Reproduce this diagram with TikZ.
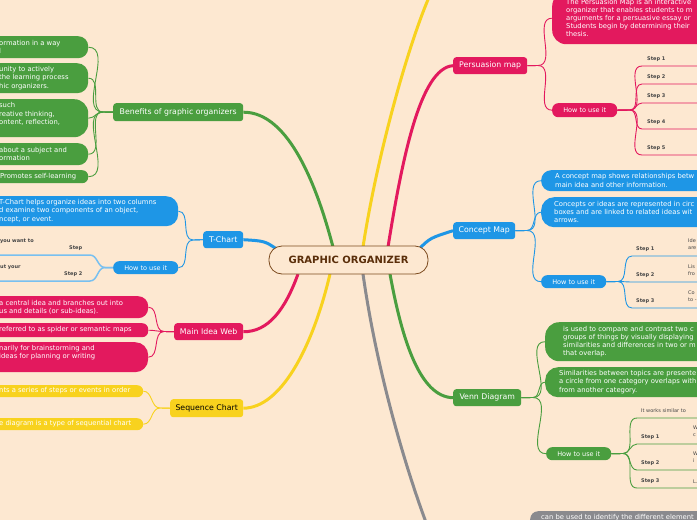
\documentclass[tikz,border=0pt]{standalone}
\usepackage{fontspec}
\setmainfont{DejaVu Sans}
\definecolor{bg}{HTML}{FDE8D1}
\definecolor{cg}{HTML}{4A9E3F}
\definecolor{cb}{HTML}{1E96E6}
\definecolor{cp}{HTML}{E3195E}
\definecolor{cy}{HTML}{F8D21E}
\definecolor{cgr}{HTML}{8A8A8E}
\definecolor{brn}{HTML}{7B4A1E}
\definecolor{dbrn}{HTML}{5A2E0A}
\definecolor{stp}{HTML}{444444}
\tikzset{
 lf/.style={font=\fontsize{6.8}{8.2}\selectfont, text=white, align=left, anchor=west, inner sep=0},
 mn/.style={font=\fontsize{7.8}{9}\selectfont, text=white, inner sep=0},
 st/.style={font=\bfseries\fontsize{5}{6}\selectfont, text=stp, anchor=west, inner sep=0, align=left},
 cn/.style={line width=0.9pt},
 ctr/.style={draw=brn, line width=0.8pt, fill=bg, rounded corners=13pt, minimum width=159pt, minimum height=28pt, font=\bfseries\fontsize{10}{12}\selectfont, text=dbrn}
}
% \boxnode{name}{color}{x1}{y1}{x2}{y2}{radius}
\newcommand{\boxnode}[7]{%
 \pgfmathsetmacro\bw{#5-#3}\pgfmathsetmacro\bh{#6-#4}%
 \node[fill=#2, rounded corners=#7pt, minimum width=\bw pt, minimum height=\bh pt, inner sep=0, anchor=north west] (#1) at (#3,#4) {};}
\begin{document}
\begin{tikzpicture}[x=1pt,y=-1pt]
\useasboundingbox (0,0) rectangle (697,520);
\fill[bg] (0,0) rectangle (697,520);
\clip (0,0) rectangle (697,520);

% main nodes
\boxnode{ben}{cg}{113}{103}{243}{121}{3}\node[mn] at (ben) {Benefits of graphic organizers};
\boxnode{tc}{cb}{203}{231}{243}{248}{3}\node[mn] at (tc) {T-Chart};
\boxnode{miw}{cp}{174}{323}{243}{340}{3}\node[mn] at (miw) {Main Idea Web};
\boxnode{seq}{cy}{170}{399}{243}{417}{3}\node[mn,text=black] at (seq) {Sequence Chart};
\boxnode{pm}{cp}{453}{57}{527}{74}{3}\node[mn] at (pm) {Persuasion map};
\boxnode{cm}{cb}{453}{222}{515}{239}{3}\node[mn] at (cm) {Concept Map};
\boxnode{vd}{cg}{453}{389}{521}{406}{3}\node[mn] at (vd) {Venn Diagram};

% main branches
\draw[cg, line width=3pt] (333,247) .. controls (318,190) and (290,112) .. (ben.east);
\draw[cy, line width=3pt] (363,247) .. controls (378,150) and (410,40) .. (430,-5);
\draw[cp, line width=3pt] (388,247) .. controls (402,160) and (420,68) .. (pm.west);
\draw[cb, line width=3pt] (418,250) .. controls (430,238) .. (cm.west);
\draw[cg, line width=3pt] (390,274) .. controls (402,340) and (420,397) .. (vd.west);
\draw[cgr, line width=3pt] (363,274) .. controls (378,380) and (410,480) .. (427,525);
\draw[cp, line width=3pt] (298,274) .. controls (285,310) and (268,332) .. (miw.east);
\draw[cy, line width=3pt] (330,274) .. controls (312,350) and (280,408) .. (seq.east);
\draw[cb, line width=3pt] (278,250) .. controls (265,241) .. (tc.east);
\node[ctr] (c) at (348.5,260) {GRAPHIC ORGANIZER};

% benefits leaves
\boxnode{b1}{cg}{-20}{36}{88}{58}{10}\node[lf] at (-1,47) {ormation in a way\\l};
\boxnode{b2}{cg}{-20}{63}{88}{93}{11}\node[lf] at (-1,78) {unity to actively\\ the learning process\\hic organizers.};
\boxnode{b3}{cg}{-20}{99}{88}{137}{14}\node[lf] at (-1,114) {such\\reative thinking,\\ontent, reflection,};
\boxnode{b4}{cg}{-20}{143}{88}{165}{10}\node[lf] at (-1,154) {about a subject and\\ormation};
\boxnode{b5}{cg}{-20}{170}{88}{183}{6}\node[lf] at (0,176.5) {Promotes self-learning};
\foreach \n in {b1,b2,b3,b4,b5} \draw[cg,cn] (ben.west) -- (103,112) to[out=180,in=0] (\n.east);

% T-chart
\boxnode{t1}{cb}{-20}{196}{178}{226}{12}\node[lf] at (-1,211) {T-Chart helps organize ideas into two columns\\d examine two components of an object,\\ncept, or event.};
\boxnode{th}{cb}{113}{261}{178}{274}{6}\node[mn,font=\fontsize{6.5}{8}\selectfont] at (th) {How to use it};
\draw[cb,cn] (tc.west) -- (193,240) to[out=180,in=0] (t1.east);
\draw[cb,cn] (tc.west) -- (193,240) to[out=180,in=0] (th.east);
\coordinate (ts1) at (90,255); \coordinate (ts2) at (90,281);
\node[st] at (0,241) {you want to};
\node[st] (s1l) at (69,248) {Step};
\node[st] at (0,267) {ut your};
\node[st] (s2l) at (64,274) {Step 2};
\draw[cb!60,line width=1.5pt] (th.west) -- (105,267.5) to[out=180,in=0] (ts1) -- (0,255);
\draw[cb!60,line width=1.5pt] (th.west) -- (105,267.5) to[out=180,in=0] (ts2) -- (0,281);

% Main idea web
\boxnode{m1}{cp}{-20}{296}{148}{318}{10}\node[lf] at (-1,307) {a central idea and branches out into\\us and details (or sub-ideas).};
\boxnode{m2}{cp}{-20}{323}{148}{337}{6}\node[lf] at (-1,330) {referred to as spider or semantic maps};
\boxnode{m3}{cp}{-20}{342}{148}{372}{13}\node[lf] at (-1,353) {narily for brainstorming and\\ideas for planning or writing};
\foreach \n in {m1,m2,m3} \draw[cp,cn] (miw.west) -- (164,331.5) to[out=180,in=0] (\n.east);

% Sequence
\boxnode{q1}{cy}{-20}{385}{143}{397}{6}\node[lf] at (-1,391) {nts a series of steps or events in order};
\boxnode{q2}{cy}{-20}{418}{143}{430}{6}\node[lf] at (-1,424) {e diagram is a type of sequential chart};
\foreach \n in {q1,q2} \draw[cy,cn] (seq.west) -- (160,408) to[out=180,in=0] (\n.east);

% Persuasion
\boxnode{p1}{cp}{552}{-8}{720}{44}{14}\node[lf] at (566,18) {The Persuasion Map is an interactive\\organizer that enables students to m\\arguments for a persuasive essay or\\Students begin by determining their\\thesis.};
\boxnode{ph}{cp}{552}{103}{617}{117}{6}\node[mn,font=\fontsize{6.5}{8}\selectfont] at (ph) {How to use it};
\foreach \n in {p1,ph} \draw[cp,cn] (pm.east) -- (538,65.5) to[out=0,in=180] (\n.west);
\foreach \i/\y in {1/66,2/84,3/103,4/129,5/155}{
 \coordinate (pst\i) at (642,\y);
 \node[st] at (647,\y-7) {Step \i};
 \draw[cp,cn] (ph.east) -- (630,110) to[out=0,in=180] (pst\i) -- (700,\y);}

% Concept
\boxnode{c1}{cb}{541}{170}{720}{191}{10}\node[lf] at (555,180.5) {A concept map shows relationships betw\\main idea and other information.};
\boxnode{c2}{cb}{541}{197}{720}{227}{13}\node[lf] at (554,212) {Concepts or ideas are represented in circ\\boxes and are linked to related ideas wit\\arrows.};
\boxnode{ch}{cb}{541}{275}{606}{288}{6}\node[mn,font=\fontsize{6.5}{8}\selectfont] at (ch) {How to use it};
\foreach \n in {c1,c2,ch} \draw[cb,cn] (cm.east) -- (527,230.5) to[out=0,in=180] (\n.west);
\foreach \i/\y/\ta/\tb in {1/256/Ide/are,2/282/Lis/fro,3/308/Co/to -}{
 \coordinate (cst\i) at (632,\y);
 \node[st] at (636,\y-7) {Step \i};
 \node[st,font=\fontsize{5}{7.5}\selectfont] at (688,\y-12) {\ta\\\tb};
 \draw[cb,cn] (ch.east) -- (618,281.5) to[out=0,in=180] (cst\i) -- (700,\y);}

% Venn
\boxnode{v1}{cg}{545}{322}{720}{361}{14}\node[lf] at (563,341.5) {is used to compare and contrast two c\\groups of things by visually displaying\\similarities and differences in two or m\\that overlap.};
\boxnode{v2}{cg}{545}{367}{720}{397}{13}\node[lf] at (559,382) {Similarities between topics are presente\\a circle from one category overlaps with\\from another category.};
\boxnode{vh}{cg}{546}{447}{611}{460}{6}\node[mn,font=\fontsize{6.5}{8}\selectfont] at (vh) {How to use it};
\foreach \n in {v1,v2,vh} \draw[cg,cn] (vd.east) -- (533,397.5) to[out=0,in=180] (\n.west);
\coordinate (vs0) at (637,418);
\node[st,font=\fontsize{5}{6}\selectfont] at (641,411) {It works similar to};
\draw[cg,cn] (vh.east) -- (623,453.5) to[out=0,in=180] (vs0) -- (700,418);
\foreach \i/\y in {1/444,2/470,3/488}{
 \coordinate (vst\i) at (637,\y);
 \node[st] at (641,\y-7) {Step \i};
 \draw[cg,cn] (vh.east) -- (623,453.5) to[out=0,in=180] (vst\i) -- (700,\y);}
\node[st,font=\fontsize{5}{7.5}\selectfont] at (693,431) {W\\c};
\node[st,font=\fontsize{5}{7.5}\selectfont] at (693,457) {W\\i};
\node[st,font=\fontsize{5}{7.5}\selectfont] at (693,482) {L.};

% gray leaf
\boxnode{g1}{cgr}{530}{511}{720}{530}{8}\node[lf] at (541,518) {can be used to identify the different element};
\draw[cgr,cn] (g1.west) -- ++(-5,5);
\end{tikzpicture}
\end{document}
